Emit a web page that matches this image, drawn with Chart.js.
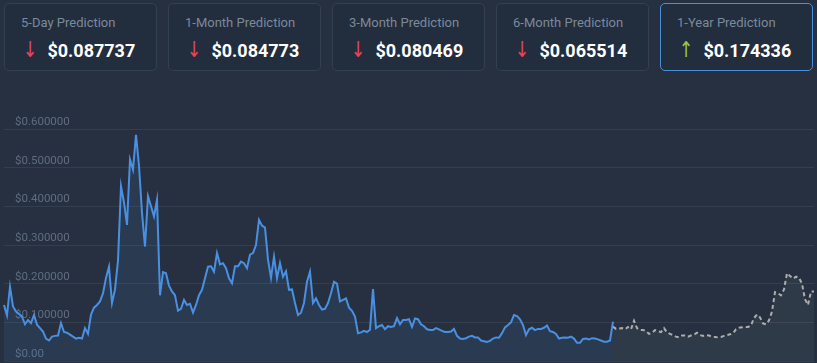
<!DOCTYPE html>
<html>
<head>
<meta charset="utf-8">
<script src="https://cdn.jsdelivr.net/npm/chart.js@4"></script>
<style>
  html, body { margin: 0; padding: 0; }
  body {
    width: 817px; height: 363px; overflow: hidden;
    background: #263040;
    font-family: Roboto, "Noto Sans", sans-serif;
    position: relative;
  }
  .cards { position: absolute; top: 3px; left: 4px; display: flex; gap: 11px; }
  .card {
    box-sizing: border-box;
    width: 153px; height: 68px;
    background: #222d3e;
    border: 1px solid #344050;
    border-radius: 5px;
    padding: 11px 0 0 16px;
  }
  .card.active { border-color: #4a8fdb; }
  .card .lbl { color: #7b899c; font-size: 13px; line-height: 16px; }
  .card .val { color: #ffffff; font-size: 18px; font-weight: bold; margin-top: 8px; line-height: 22px; }
  .card .arr { font-family: "DejaVu Sans", sans-serif; font-size: 22px; font-weight: normal; margin-right: 8px; display: inline-block; transform: scaleX(0.8); }
  .card .down { color: #e2485c; }
  .card .up { color: #9cc540; }
  #wrap { position: absolute; left: 0; top: 100px; width: 817px; height: 263px; }
</style>
</head>
<body>
<div class="cards" id="cards"></div>
<div id="wrap"><canvas id="priceChart"></canvas></div>

<script>
/*** prediction cards */
const cardTitles = ['5-Day Prediction', '1-Month Prediction', '3-Month Prediction', '6-Month Prediction', '1-Year Prediction'];
const cardValues = ['0.087737', '0.084773', '0.080469', '0.065514', '0.174336'];
const cardUp = [false, false, false, false, true];

/*** price history (blue) and forecast (dashed) */
const history = [
  0.145, 0.118, 0.192, 0.141, 0.128, 0.122, 0.115, 0.095, 0.106, 0.098,
  0.119, 0.094, 0.085, 0.076, 0.058, 0.053, 0.063, 0.065, 0.066, 0.098,
  0.075, 0.073, 0.068, 0.063, 0.058, 0.060, 0.058, 0.085, 0.070, 0.120,
  0.138, 0.145, 0.154, 0.175, 0.215, 0.244, 0.150, 0.185, 0.260, 0.452,
  0.410, 0.352, 0.521, 0.495, 0.585, 0.505, 0.383, 0.296, 0.426, 0.400,
  0.374, 0.417, 0.170, 0.230, 0.227, 0.195, 0.180, 0.170, 0.130, 0.135,
  0.158, 0.145, 0.148, 0.125, 0.145, 0.170, 0.184, 0.214, 0.244, 0.245,
  0.231, 0.279, 0.250, 0.253, 0.240, 0.214, 0.201, 0.245, 0.245, 0.257,
  0.253, 0.240, 0.275, 0.279, 0.300, 0.365, 0.350, 0.345, 0.262, 0.215,
  0.270, 0.214, 0.253, 0.218, 0.232, 0.184, 0.185, 0.150, 0.119, 0.125,
  0.150, 0.205, 0.231, 0.150, 0.162, 0.145, 0.133, 0.135, 0.150, 0.175,
  0.205, 0.200, 0.154, 0.158, 0.162, 0.138, 0.130, 0.115, 0.072, 0.074,
  0.078, 0.075, 0.081, 0.186, 0.085, 0.090, 0.093, 0.082, 0.090, 0.088,
  0.090, 0.111, 0.095, 0.106, 0.106, 0.108, 0.088, 0.110, 0.108, 0.095,
  0.090, 0.082, 0.080, 0.080, 0.085, 0.082, 0.078, 0.075, 0.075, 0.076,
  0.083, 0.065, 0.058, 0.057, 0.059, 0.063, 0.065, 0.061, 0.061, 0.053,
  0.051, 0.049, 0.052, 0.058, 0.061, 0.060, 0.072, 0.087, 0.093, 0.100,
  0.119, 0.116, 0.108, 0.093, 0.067, 0.082, 0.086, 0.080, 0.083, 0.083,
  0.086, 0.092, 0.077, 0.075, 0.070, 0.058, 0.060, 0.061, 0.060, 0.063,
  0.058, 0.047, 0.047, 0.057, 0.058, 0.056, 0.059, 0.058, 0.056, 0.053,
  0.050, 0.050, 0.053, 0.102
];
const forecastStart = 0.089;
const forecast = [
  0.083, 0.084, 0.085, 0.082, 0.088, 0.082, 0.104, 0.085, 0.080, 0.080,
  0.078, 0.070, 0.073, 0.080, 0.077, 0.075, 0.085, 0.074, 0.070, 0.067,
  0.063, 0.061, 0.066, 0.066, 0.063, 0.066, 0.068, 0.073, 0.067, 0.065,
  0.067, 0.066, 0.063, 0.062, 0.061, 0.062, 0.065, 0.067, 0.069, 0.072,
  0.082, 0.086, 0.087, 0.088, 0.088, 0.092, 0.111, 0.120, 0.113, 0.097,
  0.095, 0.105, 0.128, 0.178, 0.175, 0.170, 0.185, 0.227, 0.220, 0.213,
  0.218, 0.215, 0.200, 0.160, 0.145, 0.180, 0.180
];
const yTicks = [0, 0.1, 0.2, 0.3, 0.4, 0.5, 0.6];

/*** build cards */
const cardBox = document.getElementById('cards');
cardTitles.forEach(function (t, i) {
  const c = document.createElement('div');
  c.className = 'card' + (i === 4 ? ' active' : '');
  c.innerHTML = '<div class="lbl">' + t + '</div>' +
    '<div class="val"><span class="arr ' + (cardUp[i] ? 'up' : 'down') + '">' + (cardUp[i] ? '↑' : '↓') + '</span>$' + cardValues[i] + '</div>';
  cardBox.appendChild(c);
});

/*** chart */
const total = history.length + forecast.length;
const labels = [];
for (let i = 0; i < total; i++) labels.push(i);

const histData = history.concat(new Array(forecast.length).fill(null));
const foreData = new Array(history.length - 1).fill(null).concat([forecastStart], forecast);

const ctx = document.getElementById('priceChart').getContext('2d');
const chart = new Chart(ctx, {
  type: 'line',
  data: {
    labels: labels,
    datasets: [{
      data: histData,
      borderColor: '#4a90e2',
      backgroundColor: 'rgba(74,144,226,0.10)',
      borderWidth: 2,
      fill: 'origin',
      pointRadius: 0,
      tension: 0
    }, {
      data: foreData,
      borderColor: '#adadad',
      backgroundColor: 'rgba(210,215,225,0.06)',
      borderWidth: 2,
      borderDash: [4, 3],
      fill: 'origin',
      pointRadius: 0,
      tension: 0
    }]
  },
  options: {
    responsive: true,
    maintainAspectRatio: false,
    animation: false,
    layout: { padding: { left: 4, right: 3, top: 29, bottom: 2 } },
    plugins: { legend: { display: false }, tooltip: { enabled: false } },
    scales: {
      x: { display: false },
      y: {
        min: 0,
        max: 0.6,
        afterBuildTicks: function (axis) {
          axis.ticks = yTicks.map(function (v) { return { value: v }; });
        },
        // labels sit inside the plot, so the axis takes no room
        afterFit: function (axis) {
          axis.width = 0;
          axis.paddingTop = 0;
          axis.paddingBottom = 0;
        },
        border: { display: false },
        grid: { color: 'rgba(255,255,255,0.07)', drawTicks: false },
        ticks: {
          mirror: true,
          padding: 11,
          labelOffset: -7,
          color: '#5f6d80',
          font: { family: 'Roboto', size: 11.5 },
          callback: function (v) { return v === 0 ? '$0.00' : '$' + Number(v).toFixed(6); }
        }
      }
    }
  }
});
</script>
</body>
</html>
